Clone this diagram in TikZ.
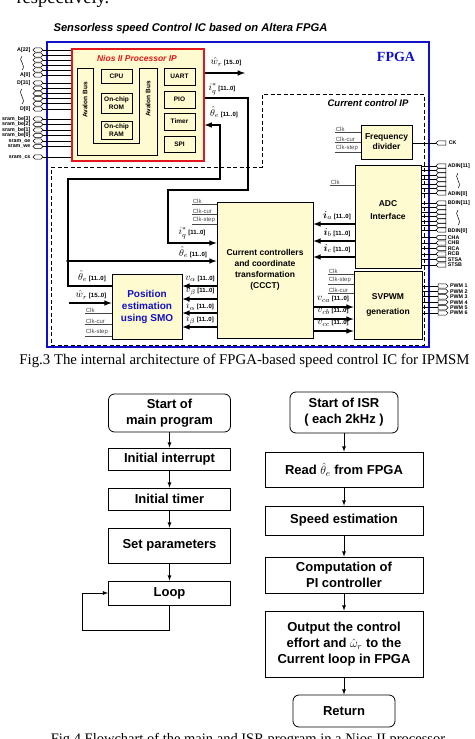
\documentclass[tikz,border=0pt]{standalone}
\usepackage{amsmath}
\usepackage{fontspec}
\setmainfont{Liberation Serif}
\setsansfont{Liberation Sans}
\usepackage{tikz}
\usetikzlibrary{shapes.symbols}
\usetikzlibrary{positioning}

\definecolor{chipfill}{RGB}{255,251,208}
\definecolor{niosred}{RGB}{226,24,28}
\definecolor{fpgablue}{RGB}{16,16,200}
\definecolor{clkgray}{RGB}{70,70,70}

\newcommand{\bw}[1]{{\sffamily\bfseries\fontsize{6}{6}\selectfont[#1]}}

\tikzset{
	chipbox/.style={draw,line width=0.8pt,fill=chipfill,inner sep=0pt,align=center,font=\sffamily\bfseries\fontsize{8.5}{11}\selectfont},
	niosbox/.style={draw,line width=0.6pt,fill=chipfill,inner sep=0pt,align=center,font=\sffamily\bfseries\fontsize{6.5}{8.5}\selectfont},
	bus/.style={line width=1.5pt},
	ctl/.style={line width=0.5pt,draw=clkgray},
	ctltxt/.style={font=\sffamily\fontsize{6}{6}\selectfont,text=clkgray,inner sep=0.6pt,anchor=south west},
	sigtxt/.style={font=\fontsize{10}{10}\selectfont,inner sep=0pt},
	pinio/.style={signal,signal to=west and east,draw,line width=0.5pt,minimum width=10pt,minimum height=4.4pt,inner sep=0pt},
	pinin/.style={pinio,signal to=west},
	pinout/.style={pinio,signal to=east},
	pinwire/.style={line width=0.9pt},
	pintxt/.style={font=\sffamily\bfseries\fontsize{5.3}{5.3}\selectfont,inner sep=0.5pt},
	flowbox/.style={draw,line width=0.8pt,inner sep=0pt,align=center,font=\sffamily\bfseries\fontsize{13}{16}\selectfont},
	flowterm/.style={flowbox,rounded corners=6pt},
	flowarrow/.style={line width=0.8pt,->}
}

\begin{document}
\begin{tikzpicture}[x=1pt,y=-1pt,>=latex]
			\useasboundingbox (0,0) rectangle (474,739);
			\clip (0,0) rectangle (474,739);
			%text around the figures
			\node[anchor=base west,font=\fontsize{18.5}{18.5}\selectfont] (prevline) at (13,3) {respectively.};
			\node[anchor=base,font=\fontsize{14.8}{14.8}\selectfont] (capthree) at (244.5,364) {Fig.3 The internal architecture of FPGA-based speed control IC for IPMSM};
			\node[anchor=base,font=\fontsize{14.5}{14.5}\selectfont] (capfour) at (248,743) {Fig.4 Flowchart of the main and ISR program in a Nios II processor};
			%chip frame and titles
			\node[anchor=west,font=\sffamily\bfseries\itshape\fontsize{11.2}{11.2}\selectfont] (title) at (50,29) {Sensorless speed Control IC based on Altera FPGA};
			\draw[fpgablue,line width=2pt] (47,42) rectangle (429,347);
			\node[text=fpgablue,font=\bfseries\fontsize{14}{14}\selectfont] (fpgatxt) at (396,57) {FPGA};
			\draw[line width=1pt,dash pattern=on 4pt off 2.5pt] (51,167) -- (262,167) -- (262,94) -- (424,94) -- (424,345) -- (51,345) -- cycle;
			\node[font=\sffamily\bfseries\itshape\fontsize{9.5}{9.5}\selectfont] (cctxt) at (368,103) {Current control IP};
			%Nios II processor
			\node[draw=niosred,line width=1.2pt,fill=chipfill,minimum width=132,minimum height=112,inner sep=0pt] (nios) at (138,105) {};
			\node[text=niosred,font=\sffamily\bfseries\itshape\fontsize{8.5}{8.5}\selectfont] (niostxt) at (137,58) {Nios II Processor IP};
			\draw[line width=0.6pt,fill=chipfill] (77,68) -- (93,68) -- (93,143) -- (139,143) -- (139,68) -- (157,68) -- (157,155) -- (77,155) -- cycle;
			\node[rotate=90,font=\sffamily\bfseries\fontsize{6.5}{6.5}\selectfont] (avleft) at (85,100) {Avalon Bus};
			\node[rotate=90,font=\sffamily\bfseries\fontsize{6.5}{6.5}\selectfont] (avright) at (148,99) {Avalon Bus};
			\node[niosbox,minimum width=31,minimum height=14] (cpu) at (116.5,76) {CPU};
			\node[niosbox,minimum width=31,minimum height=20] (rom) at (116.5,103) {On-chip\\ROM};
			\node[niosbox,minimum width=31,minimum height=18] (ram) at (116.5,130) {On-chip\\RAM};
			\node[niosbox,minimum width=31,minimum height=17] (uart) at (179.5,76.5) {UART};
			\node[niosbox,minimum width=31,minimum height=17] (pio) at (179.5,99.5) {PIO};
			\node[niosbox,minimum width=31,minimum height=17] (timer) at (179.5,121.5) {Timer};
			\node[niosbox,minimum width=31,minimum height=16] (spi) at (179.5,144) {SPI};
			%blocks of the current control IP
			\node[chipbox,minimum width=51,minimum height=34,font=\sffamily\bfseries\fontsize{8.5}{10}\selectfont] (freq) at (386.5,142) {Frequency\\divider};
			\node[chipbox,minimum width=66,minimum height=103] (adc) at (388,216.5) {};
			\node[align=center,font=\sffamily\bfseries\fontsize{8.5}{13}\selectfont] (adctxt) at (388,210) {ADC\\Interface};
			\node[chipbox,minimum width=68,minimum height=68,font=\sffamily\bfseries\fontsize{8.5}{15}\selectfont] (svpwm) at (388,305) {SVPWM\\generation};
			\node[chipbox,minimum width=96,minimum height=136] (ccct) at (265,270) {Current controllers\\and coordinate\\transformation\\(CCCT)};
			\node[chipbox,minimum width=70,minimum height=65,text=fpgablue,font=\sffamily\bfseries\fontsize{10}{12}\selectfont] (smo) at (147,306.5) {Position\\estimation\\using SMO};
			%external pins, left side
			\foreach \yy [count=\i] in {50,55,60,65,70,75,83,88.2,93.4,98.6,103.8,109,119,124.5,130,135.5,141,146.5,157}{
				\node[pinio] (lp\i) at (38,\yy) {};
				\draw[pinwire] (lp\i.east) -- (lp\i.east -| nios.west);
			}
			\foreach \n/\lbl in {1/A[22],6/A[0],7/D[31],12/D[0],13/sram\_be[3],14/sram\_be[2],15/sram\_be[1],16/sram\_be[0],17/sram\_oe,18/sram\_we,19/sram\_cs}
				\node[pintxt,anchor=east] at ([xshift=-1.5pt]lp\n.west) {\lbl};
			\draw[line width=0.5pt] (22,56) .. controls (17,60) and (27,65) .. (22,70);
			\draw[line width=0.5pt] (22,89) .. controls (17,94) and (27,99) .. (22,104);
			%external pins, right side
			\node[pinin] (ckpin) at (442,143) {};
			\draw[pinwire] (freq.east |- ckpin) -- (ckpin.west);
			\node[pintxt,anchor=west] at ([xshift=2pt]ckpin.east) {CK};
			\foreach \i in {0,...,6}{
				\node[pinin] (ad\i) at (442,{166+4.5*\i}) {};
				\node[pinin] (bd\i) at (442,{203+4.5*\i}) {};
				\draw[pinwire] (ad\i.west) -- (ad\i.west -| adc.east);
				\draw[pinwire] (bd\i.west) -- (bd\i.west -| adc.east);
			}
			\foreach \lbl/\yy [count=\i] in {CHA/237.5,CHB/243,RCA/248.5,RCB/254,STSA/259.5,STSB/265}{
				\node[pinin] (st\i) at (442,\yy) {};
				\draw[pinwire] (st\i.west) -- (st\i.west -| adc.east);
				\node[pintxt,anchor=west] at ([xshift=1pt]st\i.east) {\lbl};
			}
			\node[pintxt,anchor=west] at ([xshift=1pt]ad0.east) {ADIN[11]};
			\node[pintxt,anchor=west] at ([xshift=1pt,yshift=-1pt]ad6.east) {ADIN[0]};
			\node[pintxt,anchor=west] at ([xshift=1pt]bd0.east) {BDIN[11]};
			\node[pintxt,anchor=west] at ([xshift=1pt,yshift=-1pt]bd6.east) {BDIN[0]};
			\draw[line width=0.5pt] (458,173) .. controls (453,177) and (463,183) .. (458,188);
			\draw[line width=0.5pt] (458,210) .. controls (453,214) and (463,220) .. (458,225);
			\foreach \i in {1,...,6}{
				\node[pinout] (pw\i) at (442,{286+5.4*(\i-1)}) {};
				\draw[pinwire] (pw\i.west -| svpwm.east) -- (pw\i.west);
				\node[pintxt,anchor=west] at ([xshift=1pt]pw\i.east) {PWM \i};
			}
			%clock inputs
			\foreach \lbl/\yy in {Clk/132,Clk-cur/142,Clk-step/152}
				\draw[ctl] (335,\yy) -- (freq.west |- 0,\yy) node[ctltxt,pos=0] {\lbl};
			\draw[ctl] (330,185) -- (adc.west |- 0,185) node[ctltxt,pos=0] {Clk};
			\foreach \lbl/\yy in {Clk/204,Clk-cur/214,Clk-step/224}
				\draw[ctl] (192,\yy) -- (ccct.west |- 0,\yy) node[ctltxt,pos=0] {\lbl};
			\foreach \lbl/\yy in {Clk/274,Clk-step/284,Clk-cur/293}
				\draw[ctl] (328,\yy) -- (svpwm.west |- 0,\yy) node[ctltxt,pos=0] {\lbl};
			\foreach \lbl/\yy in {Clk/313,Clk-cur/324,Clk-step/336}
				\draw[ctl] (85,\yy) -- (smo.west |- 0,\yy) node[ctltxt,pos=0] {\lbl};
			%signals between the Nios and the current control IP
			\coordinate (wrout) at (245,73);
			\draw[bus,->] (nios.east |- wrout) -- (wrout);
			\node[sigtxt] (wrlbl) at (226,62) {$\hat{w}_r$\,\bw{15..0}};
			\coordinate (iqa) at (248,98);
			\coordinate (iqb) at (168,190);
			\coordinate (iqc) at (168,243);
			\draw[bus,->] (nios.east |- iqa) -- (iqa) -- (iqa |- iqb) -- (iqb) -- (iqc) -- (iqc -| ccct.west);
			\node[sigtxt] (iqlbl) at (222,89) {$i_q^*$\,\bw{11..0}};
			\node[sigtxt] (iqlbltwo) at (192,233) {$i_q^*$\,\bw{11..0}};
			\coordinate (thj) at (68,261);
			\coordinate (thb) at (68,286);
			\coordinate (thu) at (68,179);
			\coordinate (thr) at (220,179);
			\coordinate (thn) at (220,125);
			\draw[bus] (smo.west |- thb) -- (thb) -- (thj);
			\draw[bus,->] (thj) -- (thj -| ccct.west);
			\draw[bus,->] (thj) -- (thu) -- (thr) -- (thn) -- (thn -| nios.east);
			\fill (thj) circle (1.8);
			\node[sigtxt] (thlbl) at (224,112) {$\hat{\theta}_e$\,\bw{11..0}};
			\node[sigtxt] (thlbltwo) at (193,252) {$\hat{\theta}_e$\,\bw{11..0}};
			\node[sigtxt] (thlblthree) at (92,276) {$\hat{\theta}_e$\,\bw{11..0}};
			\coordinate (wrin) at (69,303);
			\draw[bus,->] (wrin) -- (wrin -| smo.west);
			\node[sigtxt] (wrlbltwo) at (91,295) {$\hat{w}_r$\,\bw{15..0}};
			%signals inside the current control IP
			\foreach \yy/\lbl in {224/a,241/b,257/c}{
				\draw[bus,->] (adc.west |- 0,\yy) -- (ccct.east |- 0,\yy);
				\node[sigtxt] at (337,\yy-8.5) {$\boldsymbol{i}_{\lbl}$\,\bw{11..0}};
			}
			\foreach \yy/\lbl in {307/a,319/b,331/c}{
				\draw[bus,->] (ccct.east |- 0,\yy) -- (svpwm.west |- 0,\yy);
				\node[sigtxt] at (333,\yy-7.5) {$v_{c\lbl}$\,\bw{11..0}};
			}
			\foreach \yy/\lbl in {286/v_\alpha,299/v_\beta,313/i_\alpha,327/i_\beta}{
				\draw[bus,->] (ccct.west |- 0,\yy) -- (smo.east |- 0,\yy);
				\node[sigtxt] at (200,\yy-7) {$\lbl$\,\bw{11..0}};
			}
			%flowchart of the main program
			\node[flowterm,minimum width=122,minimum height=38] (mstart) at (169.5,413) {Start of\\main program};
			\node[flowbox,minimum width=122,minimum height=22] (minit) at (169.5,459) {Initial interrupt};
			\node[flowbox,minimum width=122,minimum height=22] (mtimer) at (169.5,499) {Initial timer};
			\node[flowbox,minimum width=122,minimum height=35] (mparam) at (169.5,545.5) {Set parameters};
			\node[flowbox,minimum width=122,minimum height=24] (mloop) at (169.5,593) {Loop};
			\draw[flowarrow] (mstart) -- (minit);
			\draw[flowarrow] (minit) -- (mtimer);
			\draw[flowarrow] (mtimer) -- (mparam);
			\draw[flowarrow] (mparam) -- (mloop);
			\coordinate (mback) at (82,630);
			\draw[flowarrow] (mloop.south) |- (mback) |- (mloop.west);
			%flowchart of the ISR
			\node[flowterm,minimum width=108,minimum height=41] (istart) at (344,412.5) {Start of ISR\\( each 2kHz )};
			\node[flowbox,minimum width=158,minimum height=35] (iread) at (344,469.5) {Read $\hat{\theta}_e$ from FPGA};
			\node[flowbox,minimum width=158,minimum height=29] (ispeed) at (344,520.5) {Speed estimation};
			\node[flowbox,minimum width=158,minimum height=36] (ipi) at (344,575) {Computation of\\PI controller};
			\node[flowbox,minimum width=158,minimum height=66] (iout) at (344,644) {Output the control\\effort and $\hat{\omega}_r$ to the\\Current loop in FPGA};
			\node[flowterm,minimum width=102,minimum height=32] (iret) at (344,711) {Return};
			\draw[flowarrow] (istart) -- (iread);
			\draw[flowarrow] (iread) -- (ispeed);
			\draw[flowarrow] (ispeed) -- (ipi);
			\draw[flowarrow] (ipi) -- (iout);
			\draw[flowarrow] (iout) -- (iret);
		\end{tikzpicture}
\end{document}
